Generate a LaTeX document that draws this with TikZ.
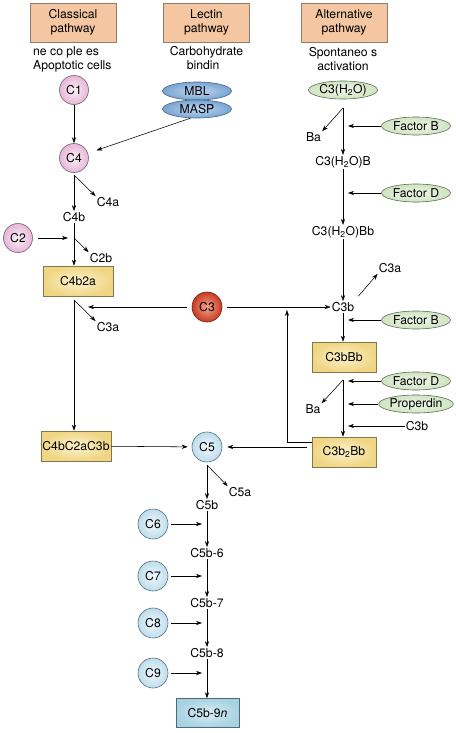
\documentclass[tikz,border=0pt]{standalone}
\usepackage{fontspec}
\setmainfont{TeX Gyre Heros}
\usetikzlibrary{arrows.meta,shapes.geometric,calc}
\definecolor{pathfill}{HTML}{F4C7A2}
\definecolor{pathdraw}{HTML}{8E7C6C}
\definecolor{pinkout}{HTML}{E6B6D8}
\definecolor{pinkin}{HTML}{FBF0F7}
\definecolor{pinkdraw}{HTML}{76606F}
\definecolor{blueout}{HTML}{78A5D3}
\definecolor{bluein}{HTML}{C0D8EF}
\definecolor{bluedraw}{HTML}{4A6684}
\definecolor{greenout}{HTML}{CFE3C1}
\definecolor{greenin}{HTML}{F0F7EA}
\definecolor{greendraw}{HTML}{5D6F56}
\definecolor{yout}{HTML}{F0D584}
\definecolor{yin}{HTML}{FCF2CB}
\definecolor{ydraw}{HTML}{857749}
\definecolor{redout}{HTML}{C73A22}
\definecolor{redin}{HTML}{F4A487}
\definecolor{reddraw}{HTML}{6E2416}
\definecolor{cout}{HTML}{BEDDEC}
\definecolor{cin}{HTML}{F0F8FC}
\definecolor{cdraw}{HTML}{52707E}
\definecolor{fout}{HTML}{A8D2E2}
\definecolor{fin}{HTML}{DAEEF5}
\definecolor{fdraw}{HTML}{4C6A77}
\begin{document}
\begin{tikzpicture}[x=1pt,y=-1pt,
  font=\fontsize{12.2}{14}\selectfont,
  pathbox/.style={draw=pathdraw, fill=pathfill, minimum width=86pt, minimum height=39pt, align=center, inner sep=1pt, line width=0.6pt},
  pinkc/.style={circle, draw=pinkdraw, inner color=pinkin, outer color=pinkout, minimum size=29pt, inner sep=0pt, line width=0.6pt},
  bluec/.style={circle, draw=cdraw, inner color=cin, outer color=cout, minimum size=30pt, inner sep=0pt, line width=0.6pt},
  redc/.style={circle, draw=reddraw, inner color=redin, outer color=redout, minimum size=30pt, inner sep=0pt, line width=0.6pt},
  bluee/.style={ellipse, draw=bluedraw, inner color=bluein, outer color=blueout, minimum width=69pt, minimum height=18pt, inner sep=0pt, line width=0.6pt},
  greene/.style={ellipse, draw=greendraw, inner color=greenin, outer color=greenout, minimum width=69pt, minimum height=18pt, inner sep=0pt, line width=0.6pt},
  ybox/.style={draw=ydraw, inner color=yin, outer color=yout, minimum height=30pt, inner sep=1pt, line width=0.6pt},
  fbox/.style={draw=fdraw, inner color=fin, outer color=fout, minimum width=63pt, minimum height=29pt, inner sep=1pt, line width=0.6pt},
  lab/.style={inner sep=1pt},
  arr/.style={-{Stealth[length=6pt,width=4.2pt]}, line width=0.55pt},
  ]
\useasboundingbox (0,0) rectangle (455,733);

% headers
\node[pathbox] (cp) at (73,22.5) {Classical\\pathway};
\node[pathbox] (lp) at (206.5,22.5) {Lectin\\pathway};
\node[pathbox] (ap) at (344,22.5) {Alternative\\pathway};
\node[lab, align=left, anchor=west] (cpt) at (32,59) {ne co ple es\\Apoptotic cells};
\node[lab, align=center] (lpt) at (206.5,59) {Carbohydrate\\bindin\phantom{g}};
\node[lab, align=center] (apt) at (343,59) {Spontaneo s\\activation};

% classical / lectin
\node[pinkc] (c1) at (74,90) {C1};
\node[bluee] (mbl) at (197,91) {MBL};
\node[bluee] (masp) at (197,109) {MASP};
\node[pinkc] (c4) at (74,158) {C4};
\coordinate (c4j) at (74,175);
\node[lab] (c4a) at (108,202) {C4a};
\node[lab] (c4b) at (74,217) {C4b};
\node[pinkc] (c2) at (18,238) {C2};
\coordinate (c2j) at (68,238);
\coordinate (c2bj) at (74,238);
\node[lab] (c2b) at (101,258) {C2b};
\node[ybox, minimum width=70pt] (c4b2a) at (78,281) {C4b2a};
\coordinate (c3j) at (74,300);
\node[lab] (c3a1) at (108,327) {C3a};
\node[redc] (c3) at (207,307) {C3};
\coordinate (c3l) at (88,307);
\coordinate (fbtop) at (287,310);
\node[ybox, minimum width=70pt] (c4c2c3) at (76,446) {C4bC2aC3b};
\node[bluec] (c5) at (207,447) {C5};

% alternative
\node[greene] (c3h) at (343,90) {C3(H\textsubscript{2}O)};
\coordinate (a1) at (343,108);
\node[lab] (ba1) at (313.5,137) {Ba};
\node[greene] (fb1) at (416,126) {Factor B};
\coordinate (fb1j) at (348,126);
\node[lab] (b1) at (343,162) {C3(H\textsubscript{2}O)B};
\node[greene] (fd1) at (416,193) {Factor D};
\coordinate (fd1j) at (348,193);
\node[lab] (b2) at (343,232) {C3(H\textsubscript{2}O)Bb};
\node[lab] (c3b) at (343,307) {C3b};
\node[lab] (c3a2) at (390,268) {C3a};
\node[greene] (fb2) at (416,320) {Factor B};
\coordinate (fb2j) at (348,320);
\node[ybox, minimum width=64pt] (c3bbb) at (344,357) {C3bBb};
\coordinate (a2) at (343,380);
\node[lab] (ba2) at (313,409) {Ba};
\node[greene] (fd2) at (416,381) {Factor D};
\coordinate (fd2j) at (348,381);
\node[greene] (pr) at (416,404) {Properdin};
\coordinate (prj) at (348,404);
\node[lab] (c3bin) at (417,426) {C3b};
\coordinate (c3bj) at (348,426);
\node[ybox, minimum width=64pt] (c3b2bb) at (344,452) {C3b\textsubscript{2}Bb};

% terminal
\coordinate (c5j) at (207,465);
\node[lab] (c5a) at (240,492) {C5a};
\node[lab] (c5b) at (207,505) {C5b};
\node[bluec] (c6) at (153,524) {C6};
\coordinate (c6j) at (202,524);
\node[lab] (c5b6) at (207,553) {C5b-6};
\node[bluec] (c7) at (153,576) {C7};
\coordinate (c7j) at (202,576);
\node[lab] (c5b7) at (207,603) {C5b-7};
\node[bluec] (c8) at (153,623) {C8};
\coordinate (c8j) at (202,623);
\node[lab] (c5b8) at (207,653) {C5b-8};
\node[bluec] (c9) at (153,673) {C9};
\coordinate (c9j) at (202,673);
\node[fbox] (c5b9) at (207.5,713) {C5b-9\textit{n}};

% connectors classical
\draw[arr] (c1) -- (c4);
\draw[arr, shorten >=9pt] (masp.235) -- (c4);
\draw[arr] (c4j) -- (c4b);
\draw[arr] (c4j) -- (c4a.north west);
\draw[arr, shorten <=5pt] (c2) -- (c2j);
\draw[arr] (c4b) -- (c4b |- c4b2a.north);
\draw[arr] (c2bj) -- (c2b.north west);
\draw[arr] (c3j) -- (c3j |- c4c2c3.north);
\draw[arr] (c3j) -- (c3a1.north west);
\draw[arr, shorten <=5pt] (c3) -- (c3l);
\draw[arr, shorten <=5pt] (c3) -- (c3b);
\draw[arr, shorten >=4pt] (c4c2c3) -- (c5);
\draw[arr, shorten <=5pt, shorten >=5pt] ([yshift=5pt]c3b2bb.west) -- ([yshift=5pt]c3b2bb.west -| c5.east);
\draw[arr] ([yshift=10pt]c3b2bb.west) -| (fbtop);

% connectors alternative
\draw[arr] (a1) -- (ba1.north east);
\draw[arr] (a1) -- (b1);
\draw[arr] (fb1) -- (fb1j);
\draw[arr] (b1) -- (b2);
\draw[arr] (fd1) -- (fd1j);
\draw[arr] (b2) -- (c3b);
\draw[arr] ([xshift=3pt,yshift=5pt]c3b.north east) -- (c3a2.south west);
\draw[arr] (fb2) -- (fb2j);
\draw[arr] (c3b) -- (c3b |- c3bbb.north);
\draw[arr] (a2) -- (ba2.north east);
\draw[arr] (a2) -- (a2 |- c3b2bb.north);
\draw[arr] (fd2) -- (fd2j);
\draw[arr] (pr) -- (prj);
\draw[arr] (c3bin) -- (c3bj);

% connectors terminal
\draw[arr] (c5j) -- (c5b);
\draw[arr] (c5j) -- (c5a.north west);
\draw[arr, shorten <=3pt] (c6) -- (c6j);
\draw[arr, shorten <=3pt] (c7) -- (c7j);
\draw[arr, shorten <=3pt] (c8) -- (c8j);
\draw[arr, shorten <=3pt] (c9) -- (c9j);
\draw[arr] (c5b) -- (c5b6);
\draw[arr] (c5b6) -- (c5b7);
\draw[arr] (c5b7) -- (c5b8);
\draw[arr] (c5b8) -- (c5b |- c5b9.north);
\end{tikzpicture}
\end{document}
